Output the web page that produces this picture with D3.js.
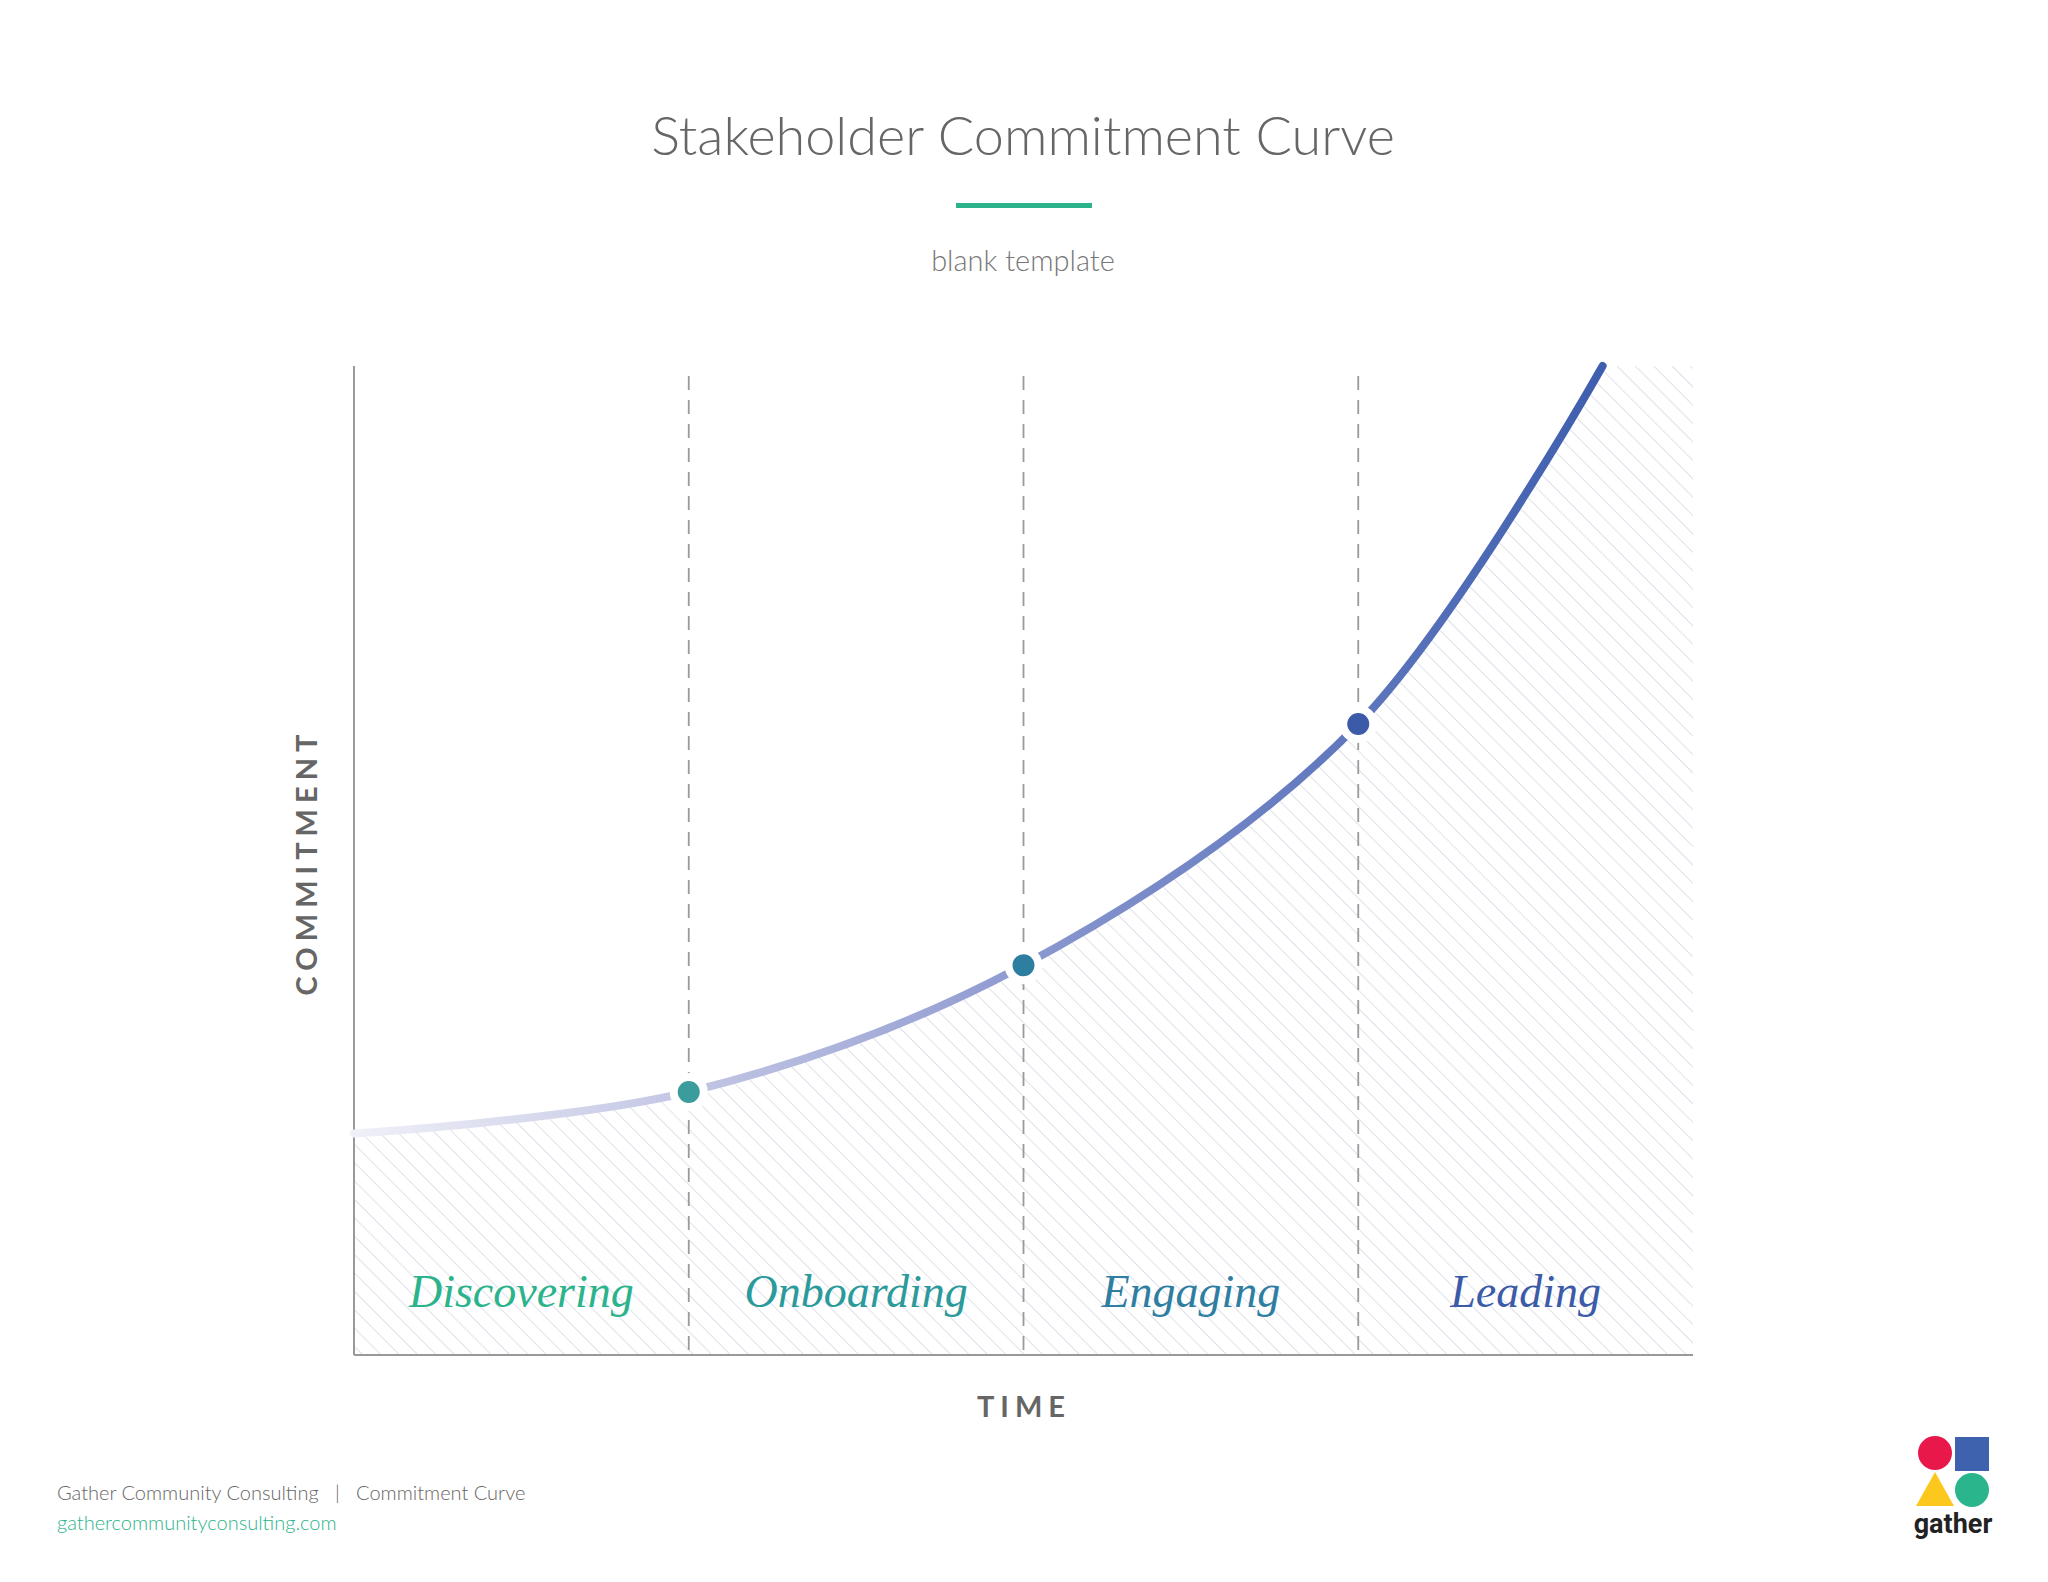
<!DOCTYPE html>
<html><head><meta charset="utf-8">
<script src="https://cdn.jsdelivr.net/npm/d3@7"></script>
<style>body{margin:0;background:#fff}svg{display:block}</style>
</head><body>
<div id="chart"></div>
<script>
const stages = ["Discovering", "Onboarding", "Engaging", "Leading"];
const stageColors = ["#2bb38b", "#2a9a9a", "#2e7ea1", "#3b5aa8"];
// curve points: time (0..4), commitment (0..100)
const curveTime = [0, 1, 2, 3, 3.73];
const curveCommit = [22.4, 26.6, 39.4, 63.8, 100];
const dotTime = [1, 2, 3];
const dotCommit = [26.6, 39.4, 63.8];
const dotColors = ["#3a9c9c", "#2e7ea1", "#3b5aa8"];

const W = 2048, H = 1582;
const m = {left: 354, right: 1693, top: 366, bottom: 1355};
const svg = d3.select("#chart").append("svg").attr("width", W).attr("height", H);
const x = d3.scaleLinear().domain([0, 4]).range([m.left, m.right]);
const y = d3.scaleLinear().domain([0, 100]).range([m.bottom, m.top]);
const pts = curveTime.map((t, i) => [t, curveCommit[i]]);
const defs = svg.append("defs");

const pat = defs.append("pattern").attr("id", "hatch").attr("patternUnits", "userSpaceOnUse")
  .attr("width", 13).attr("height", 13).attr("patternTransform", "rotate(-45)");
pat.append("line").attr("x1", 0).attr("y1", 0).attr("x2", 0).attr("y2", 13)
  .attr("stroke", "#d6d6e6").attr("stroke-width", 1.5);
defs.append("clipPath").attr("id", "plot").append("rect")
  .attr("x", m.left).attr("y", m.top).attr("width", m.right - m.left).attr("height", m.bottom - m.top);
const grad = defs.append("linearGradient").attr("id", "lineGrad")
  .attr("gradientUnits", "userSpaceOnUse").attr("x1", x(0)).attr("x2", x(3.73)).attr("y1", 0).attr("y2", 0);
grad.append("stop").attr("offset", "0%").attr("stop-color", "#f0f0f8");
grad.append("stop").attr("offset", "35%").attr("stop-color", "#b4b9de");
grad.append("stop").attr("offset", "60%").attr("stop-color", "#7f8fcb");
grad.append("stop").attr("offset", "100%").attr("stop-color", "#3e5eae");

const curve = d3.curveCatmullRom.alpha(0.5);
// hatched area under the curve, extended to the right edge
svg.append("path").datum(pts).attr("clip-path", "url(#plot)")
  .attr("fill", "url(#hatch)")
  .attr("d", d3.area().x(d => x(d[0])).y0(y(0)).y1(d => y(d[1])).curve(curve));
svg.append("rect").attr("x", x(3.73)).attr("y", m.top).attr("width", m.right - x(3.73))
  .attr("height", m.bottom - m.top).attr("fill", "url(#hatch)");
svg.append("path").datum([[3, 63.8], [3.73, 100], [4, 100], [4, 63.8]]).attr("fill", "url(#hatch)")
  .attr("clip-path", "url(#plot)").attr("opacity", 0);

// dashed dividers
svg.selectAll(".div").data([1, 2, 3]).enter().append("line")
  .attr("x1", d => x(d)).attr("x2", d => x(d)).attr("y1", m.top + 10).attr("y2", m.bottom)
  .attr("stroke", "#9a9a9a").attr("stroke-width", 1.8).attr("stroke-dasharray", "14,10");

// axes
svg.append("line").attr("x1", m.left).attr("x2", m.left).attr("y1", m.top).attr("y2", m.bottom)
  .attr("stroke", "#999").attr("stroke-width", 2);
svg.append("line").attr("x1", m.left).attr("x2", m.right).attr("y1", m.bottom).attr("y2", m.bottom)
  .attr("stroke", "#999").attr("stroke-width", 2);

svg.append("path").datum(pts).attr("fill", "none").attr("stroke", "url(#lineGrad)")
  .attr("stroke-width", 8).attr("stroke-linecap", "round")
  .attr("d", d3.line().x(d => x(d[0])).y(d => y(d[1])).curve(curve));

svg.selectAll(".dot").data(dotTime).enter().append("circle")
  .attr("cx", d => x(d)).attr("cy", (d, i) => y(dotCommit[i])).attr("r", 15)
  .attr("fill", (d, i) => dotColors[i]).attr("stroke", "#fff").attr("stroke-width", 8);

svg.selectAll(".stage").data(stages).enter().append("text")
  .attr("x", (d, i) => x(i + 0.5)).attr("y", 1307).attr("text-anchor", "middle")
  .attr("font-family", "'Liberation Serif', serif").attr("font-style", "italic")
  .attr("font-size", 46).attr("fill", (d, i) => stageColors[i]).text(d => d);

const sans = "Lato, 'Open Sans', sans-serif";
svg.append("text").attr("x", 1023).attr("y", 155).attr("text-anchor", "middle")
  .attr("font-family", sans).attr("font-weight", 300).attr("font-size", 54).attr("fill", "#666")
  .text("Stakeholder Commitment Curve");
svg.append("rect").attr("x", 956).attr("y", 203).attr("width", 136).attr("height", 5).attr("fill", "#2bb38b");
svg.append("text").attr("x", 1023).attr("y", 271).attr("text-anchor", "middle")
  .attr("font-family", sans).attr("font-weight", 300).attr("font-size", 29).attr("fill", "#777")
  .text("blank template");
svg.append("text").attr("transform", "translate(317,862) rotate(-90)").attr("text-anchor", "middle")
  .attr("font-family", sans).attr("font-weight", 700).attr("font-size", 29).attr("letter-spacing", 6)
  .attr("fill", "#666").text("COMMITMENT");
svg.append("text").attr("x", 1024).attr("y", 1417).attr("text-anchor", "middle")
  .attr("font-family", sans).attr("font-weight", 700).attr("font-size", 29).attr("letter-spacing", 6)
  .attr("fill", "#666").text("TIME");

svg.append("text").attr("x", 57).attr("y", 1500).attr("font-family", sans).attr("font-weight", 300)
  .attr("font-size", 20).attr("fill", "#666")
  .text("Gather Community Consulting   |   Commitment Curve").attr("xml:space", "preserve");
svg.append("text").attr("x", 57).attr("y", 1530).attr("font-family", sans).attr("font-weight", 300)
  .attr("font-size", 20).attr("fill", "#2bb38b").text("gathercommunityconsulting.com");

// logo
const g = svg.append("g");
g.append("circle").attr("cx", 1935).attr("cy", 1453).attr("r", 17).attr("fill", "#e8194a");
g.append("rect").attr("x", 1955).attr("y", 1437).attr("width", 34).attr("height", 34).attr("fill", "#3e62ad");
g.append("path").attr("d", "M1935,1472 L1954,1506 L1916,1506 Z").attr("fill", "#fcc81e");
g.append("circle").attr("cx", 1972).attr("cy", 1490).attr("r", 17).attr("fill", "#2bb58c");
g.append("text").attr("x", 1953).attr("y", 1533).attr("text-anchor", "middle")
  .attr("font-family", "Roboto, sans-serif").attr("font-weight", 700).attr("font-size", 27)
  .attr("fill", "#222").text("gather");
</script>
</body></html>
